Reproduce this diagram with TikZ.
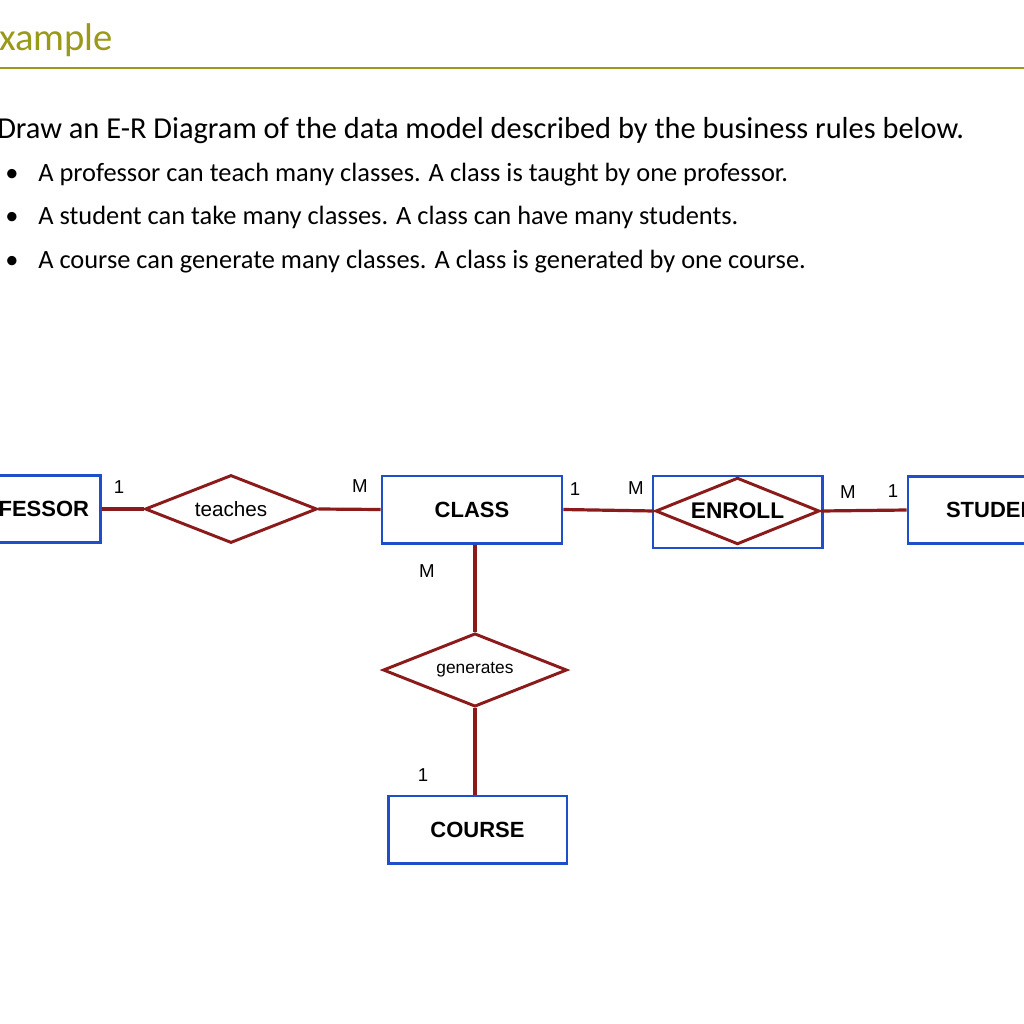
\documentclass[tikz,border=0pt]{standalone}
\usepackage{fontspec}
\setmainfont{Liberation Sans}
\newfontfamily\calfont{Carlito}
\usetikzlibrary{shapes.geometric}
\definecolor{olive}{HTML}{9A9A1A}
\definecolor{erred}{HTML}{8B1A1A}
\definecolor{erblue}{HTML}{1F4FC8}
\tikzset{
 ent/.style={draw=erblue,line width=2pt,minimum height=50.5pt,font=\bfseries\fontsize{16.5}{19}\selectfont,inner sep=0pt},
 rel/.style={diamond,draw=erred,line width=2.2pt,inner sep=0pt},
 rtxt/.style={inner sep=0pt},
 lnk/.style={erred,line width=2.4pt},
 card/.style={font=\fontsize{14}{16}\selectfont,inner sep=0pt},
 bul/.style={anchor=base west,font=\calfont\fontsize{19.8}{23}\selectfont,inner sep=0pt}
}
\begin{document}
\begin{tikzpicture}[x=0.75pt,y=-0.75pt]
\useasboundingbox (0,0) rectangle (1024,1024);
\clip (0,0) rectangle (1024,1024);
\fill[white] (0,0) rectangle (1024,1024);
\node[anchor=base west,inner sep=0pt,text=olive,font=\calfont\fontsize{29}{33}\selectfont] (title) at (-20,51) {Example};
\draw[olive,line width=1.6pt] (0,68) -- (1024,68);
\node[bul,font=\calfont\fontsize{22.8}{27}\selectfont] (intro) at (-3,138) {Draw an E-R Diagram of the data model described by the business rules below.};
\foreach \y/\t in {181/{A professor can teach many classes. A class is taught by one professor.},
 224/{A student can take many classes. A class can have many students.},
 268/{A course can generate many classes. A class is generated by one course.}}{
 \node[bul] at (5,\y) {\textbullet};
 \node[bul] at (38,\y) {\t};
}
% entities
\node[ent,minimum width=121pt] (prof) at (20,509) {PROFESSOR};
\node[ent,minimum width=135pt] (class) at (472,509.5) {CLASS};
\node[ent,minimum width=135pt] (stud) at (998,510) {STUDENT};
\node[ent,minimum width=134pt] (course) at (477.5,829.5) {COURSE};
\node[draw=erblue,line width=2pt,minimum width=127pt,minimum height=54pt,inner sep=0pt] (enbox) at (737.5,512) {};
% relationships
\node[rel,minimum width=129pt,minimum height=51pt] (teach) at (231,509) {};
\node[rtxt,font=\fontsize{15.5}{18}\selectfont] at (teach.center) {teaches};
\node[rel,minimum width=123pt,minimum height=50pt] (enroll) at (737.5,511) {};
\node[rtxt,font=\bfseries\fontsize{17}{20}\selectfont] at (enroll.center) {ENROLL};
\node[rel,minimum width=138pt,minimum height=55pt] (gen) at (475,670) {};
\node[rtxt,font=\fontsize{13}{15}\selectfont] at (gen.center) {generates};
% links
\draw[lnk] (prof.east) -- (teach.west);
\draw[lnk] (teach.east) -- (class.west);
\draw[lnk] (class.east) -- (enroll.west);
\draw[lnk] (enroll.east) -- (stud.west);
\draw[lnk] (class.south -| gen.north) -- (gen.north);
\draw[lnk] (gen.south) -- (gen.south |- course.north);
% cardinalities
\node[card] at (119,487) {1};
\node[card] at (360,486) {M};
\node[card] at (575,489) {1};
\node[card] at (636,488) {M};
\node[card] at (848,492) {M};
\node[card] at (893,491) {1};
\node[card] at (427,571) {M};
\node[card] at (423,775) {1};
\end{tikzpicture}
\end{document}
